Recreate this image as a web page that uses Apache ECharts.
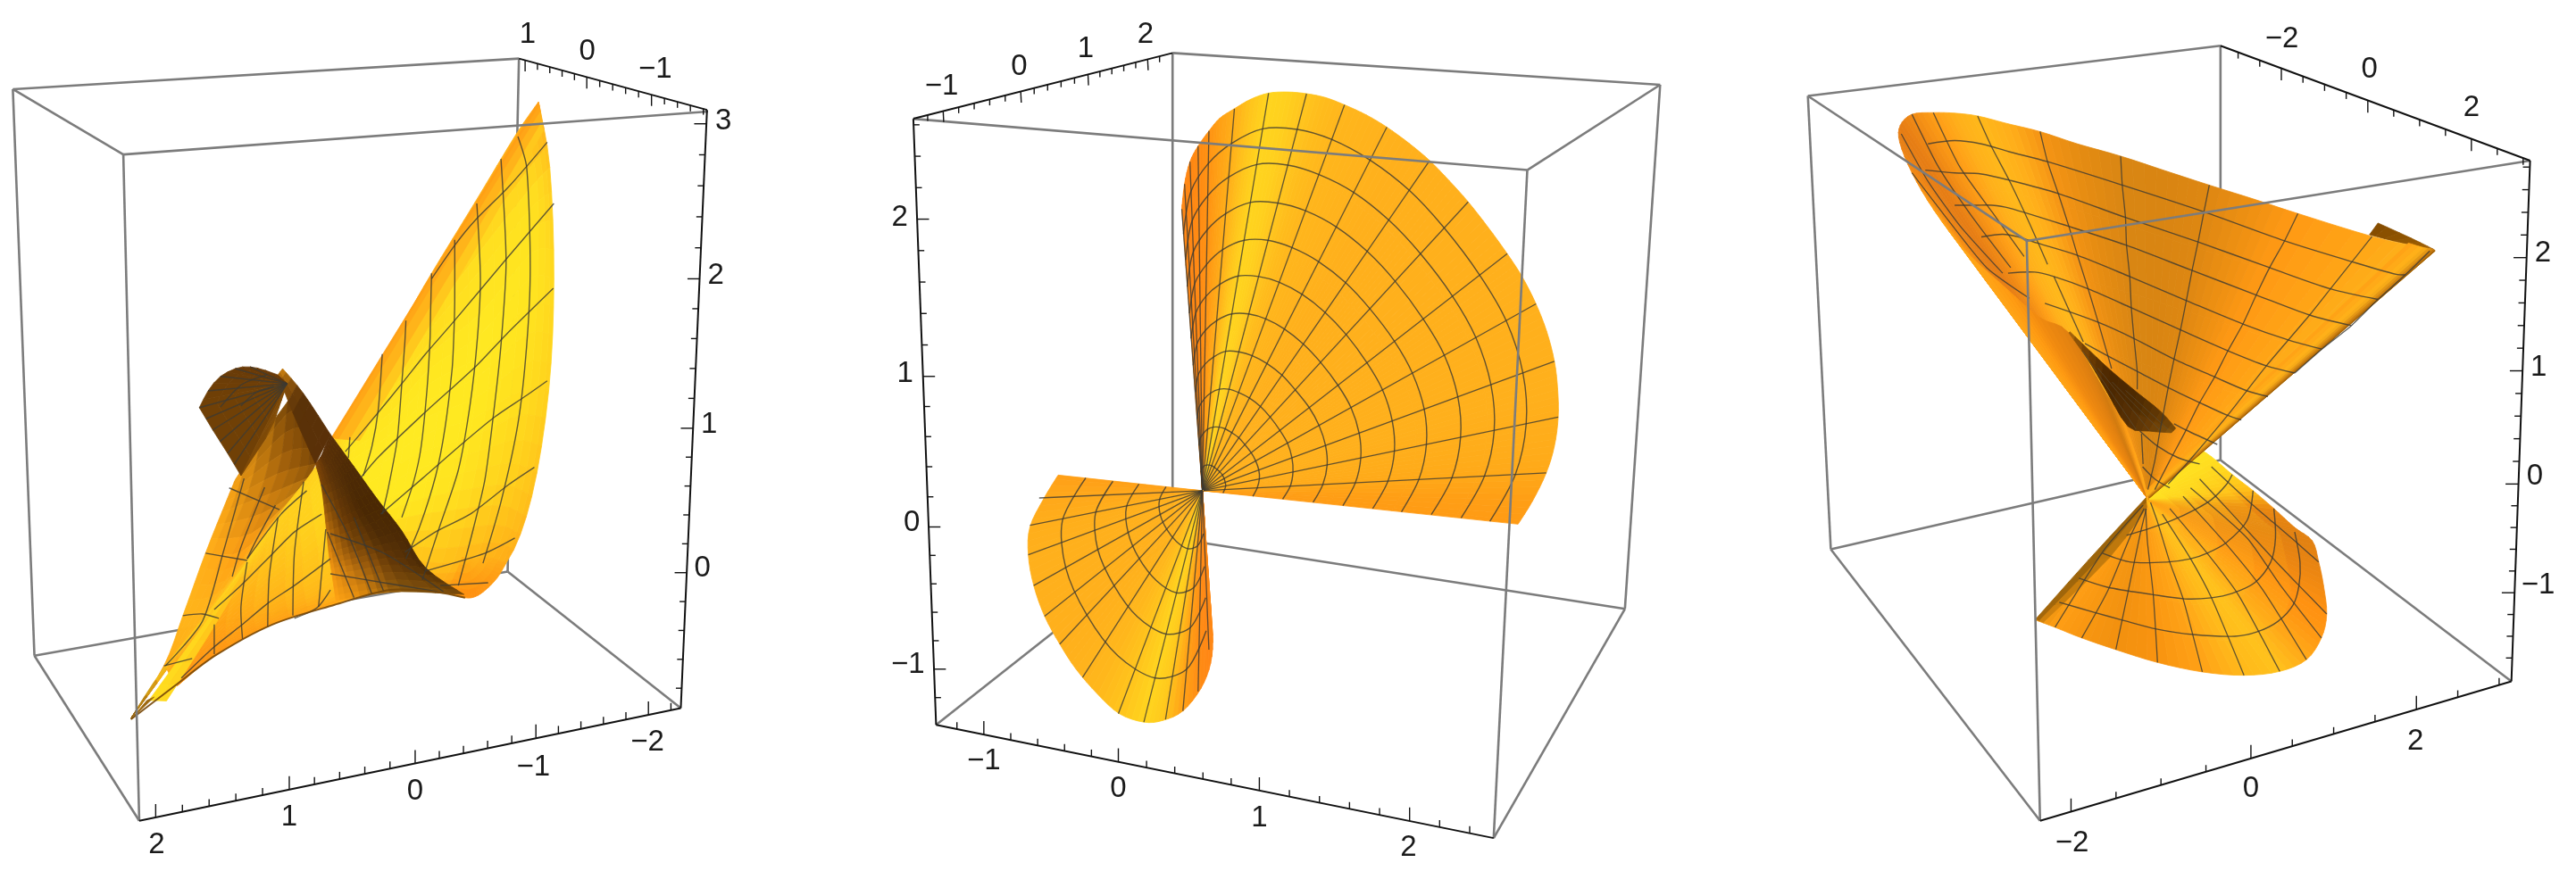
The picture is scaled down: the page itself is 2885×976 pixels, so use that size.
<!DOCTYPE html>
<html><head><meta charset="utf-8">
<style>html,body{margin:0;padding:0;background:#fff}#c{width:2885px;height:976px}</style>
<script src="https://cdn.jsdelivr.net/npm/echarts@6/dist/echarts.min.js"></script>
</head><body><div id="c"></div>
<script>
// ---------- Panel 1: frame and axes ----------
const p1BackEdges=[[[25,160],[1010,105]],[[25,160],[67,1176]],[[67,1176],[988,1025]],[[1010,105],[988,1025]],[[988,1025],[1325,1270]]];
const p1FrontEdges=[[[240,277],[25,160]],[[240,277],[1378,200]],[[240,277],[271,1472]],[[67,1176],[271,1472]]];
const p1AxisEdges=[[[1010,105],[1376,197]],[[1376,197],[1325,1270]],[[1325,1270],[271,1472]]];
const p1Axes=[
 {majors:[[303,1466],[563,1416],[808,1369],[1043,1323],[1262,1282]],sub:5,before:0,after:1,big:[0,-24],small:[0,-13]},
 {majors:[[1022,108],[1142,139],[1268,170]],sub:5,before:0,after:4,big:[0,20],small:[0,11]},
 {majors:[[1375,222],[1362,500],[1349,768],[1337,1027]],sub:5,before:0,after:4,big:[-24,0],small:[-12,0]}];
const p1Labels=[['2',305,1516],['1',563,1466],['0',808,1420],['−1',1038,1377],['−2',1260,1332],['1',1027,62],['0',1143,92],['−1',1275,125],['3',1408,218],['2',1393,495],['1',1380,762],['0',1367,1020]];
// ---------- Panel 1: surface ----------
const p1BackRows=[[[458,860],[440,900],[400,992],[356,1104],[319,1194],[255,1288]],[[560,720],[540,850],[470,990],[405,1090],[325,1200],[255,1288]],[[590,720],[614,832],[544,922],[452,1045],[322,1194],[255,1288]]];
const p1BackShade=[['FFA816','FFA816','FFB01A','FFB51A','FFA815','8A5A10'],['6A3C06','B06A0C','FF9E14','FFB41A','FFB41A','8A5A10'],['5A3206','7A4606','FFB01A','FFD01E','FFCC1C','8A5A10']];
const p1MainRows=[
 [[1048,183],[1070,300],[1078,500],[1068,700],[1035,890],[985,1010],[905,1072]],
 [[1005,240],[1030,340],[1030,500],[1015,700],[985,870],[945,1000],[880,1062]],
 [[925,362],[935,450],[935,600],[920,750],[895,880],[860,1010],[830,1058]],
 [[840,490],[845,560],[838,660],[825,780],[800,900],[775,1000],[760,1058]],
 [[790,570],[775,650],[760,740],[745,830],[720,930],[700,1000],[690,1072]],
 [[720,680],[700,730],[680,800],[660,880],[650,950],[650,1020],[655,1083]],
 [[620,830],[625,860],[630,900],[640,960],[645,1010],[650,1050],[655,1083]],
 [[544,922],[540,960],[530,1000],[525,1040],[522,1080],[525,1105],[530,1120]],
 [[452,1045],[440,1075],[425,1100],[415,1130],[415,1150],[415,1165],[420,1175]],
 [[322,1194],[325,1200],[330,1210],[335,1220],[340,1225],[345,1228],[345,1230]]];
const p1MainShade=[
 ['FF9A14','FFC81E','FFD81E','FFD01C','FFBE1A','FFAA18','FF8E10'],
 ['FFA815','FFDF20','FFE620','FFDE1E','FFD01C','FFB218','FF9612'],
 ['FFA515','FFDF20','FFE822','FFE820','FFE020','FFC01A','FF9C12'],
 ['FFA515','FFD81E','FFE620','FFEA22','FFE820','FFC41A','FF9E14'],
 ['FFA515','FFD81E','FFE620','FFEA22','FFE820','FFC41A','FF9E14'],
 ['FFC81C','FFE020','FFE620','FFE820','FFE020','FFC81A','FFA415'],
 ['FFCE1C','FFD81E','FFD81E','FFD01C','FFC81A','FFC01A','FFA415'],
 ['FFD21C','FFCA1C','FFC41A','FFBC1A','FFB218','FFA815','FF9E14'],
 ['FFD81C','FFB618','FFA815','FFA012','FF9C12','FF9812','FF9412'],
 ['FFCC1C','FFB018','FFA012','FF9812','FF9412','FF9412','FF9412']];
const p1EdgeRows=[[[1048,183],[880,433],[645,785]],[[1052,200],[890,440],[660,787]],[[1057,235],[915,462],[700,790]]];
const p1EdgeShade=[['FF9C14','FF9C14','FF9C14'],['FFA818','FFAA18','FFAA18'],['FFD21E','FFD21E','FFD21E']];
const p1CornerApex=[900,1000];
const p1CornerRim=[[985,1010],[968,1036],[945,1058],[925,1070],[905,1072],[870,1064]];
const p1CornerFar=['FFA818','FF9C14','FF9412','FF8E10','FF8E10','FF9412'];
const p1CornerNear=['FFB81A','FFB81A','FFB418','FFB418','FFB418','FFB418'];
const p1StripRows=[[[460,1040],[475,1034]],[[375,1148],[400,1148]],[[290,1256],[324,1257]]];
const p1StripShade=[['FFD01C','FFB41A'],['FFDC1E','FFC41A'],['FFDE1E','FFDC1E']];
const p1TipRows=[[[255,1290],[262,1284]],[[286,1256],[300,1250]]];
const p1TipShade=[['6E4208','6E4208'],['C98A10','C98A10']];
const p1WedgeRows=[
 [[614,832],[626,816],[634,797],[643,779]],
 [[626,874],[649,864],[672,851],[689,837]],
 [[634,938],[666,928],[701,912],[735,896]],
 [[640,992],[678,981],[736,965],[782,952]],
 [[646,1029],[689,1024],[759,1013],[828,1018]],
 [[654,1077],[701,1069],[782,1061],[903,1066]]];
const p1WedgeShade=[
 ['8A4A06','5A3008','5A3008','5A3008'],
 ['7A4408','5A3208','4D2A06','4D2A06'],
 ['B86E0C','6A3A06','4A2804','4A2804'],
 ['E88E10','8A500A','4E2C06','4A2804'],
 ['F89A12','C07410','6A3C08','4A2A06'],
 ['FFA515','E8900F','8A5A10','7A4A08']];
const p1RidgeRows=[[[541,672],[550,661]],[[570,740],[590,705]],[[614,832],[643,779]]];
const p1RidgeShade=[['B06A0C','D98A10'],['5A3208','5A3208'],['5A3008','5A3008']];
const p1CapApex=[559,688];
const p1CapRim=[[540,672],[516,664],[500,660],[487,658],[472,658],[458,661],[443,667],[429,675],[416,687],[405,701],[396,716],[388,731],[414,771],[443,813],[469,853],[515,789],[533,757]];
const p1CapShade=['633606','6B3C08','6A3A06','6A3A06','6A3A06','6A3A06','6A3C08','6A3C08','6E3E06','6E3E06','704006','704006','704006','704006','704006','8A5208','7A4608'];
const p1Mesh=[
 [[1008,245],[1025,300],[1032,480],[1025,620],[1008,760],[975,900],[940,1010]],
 [[975,285],[985,470],[976,608],[964,715],[944,859],[921,949],[892,1050]],
 [[928,365],[935,500],[929,608],[915,725],[892,843],[854,949],[822,1040]],
 [[885,430],[885,540],[883,608],[880,661],[866,768],[848,853],[817,944],[790,1002]],
 [[840,490],[838,560],[837,608],[831,699],[819,805],[805,864],[782,928]],
 [[790,575],[788,613],[782,688],[773,789],[756,874],[744,922]],
 [[744,635],[736,736],[724,800],[707,853]],
 [[681,784],[678,821]],
 [[1065,255],[990,335],[925,395],[885,440],[840,500]],
 [[1078,365],[985,465],[880,580],[828,635],[782,688],[735,741],[672,810]],
 [[1077,517],[985,600],[927,656],[822,744],[735,821],[701,858]],
 [[1065,683],[1025,709],[961,749],[898,797],[822,858],[741,922]],
 [[1040,838],[990,869],[915,922],[851,952],[788,990]],
 [[1002,965],[944,992],[828,1024]],
 [[950,1045],[857,1050]],
 [[591,864],[573,992],[570,1104]],
 [[541,928],[524,1034],[521,1125]],
 [[481,1008],[469,1088],[472,1146]],
 [[417,1120],[417,1173]],
 [[634,949],[620,1088]],
 [[643,1002],[573,1050],[521,1082],[469,1122],[417,1160],[353,1216]],
 [[626,922],[573,954],[521,1002],[469,1050],[417,1093]],
 [[597,880],[547,922],[481,1002]],
 [[643,1058],[617,1090],[573,1109]],
 [[446,875],[544,914]],
 [[400,992],[481,1005]],
 [[356,1104],[394,1101],[426,1109]],
 [[319,1194],[374,1181]],
 [[475,858],[434,992],[394,1114],[322,1194]],
 [[515,874],[469,981],[452,1034]],
 [[536,906],[498,970],[481,1002]],
 [[643,957],[747,992],[863,1061]],
 [[643,1029],[747,1045],[851,1061]],
 [[626,869],[678,960],[724,1066]],
 [[637,954],[672,1034],[689,1072]],
 [[689,928],[747,1061]],
 [[559,688],[487,658]],[[559,688],[458,661]],[[559,688],[429,675]],[[559,688],[405,701]],[[559,688],[388,731]],[[559,688],[401,751]],[[559,688],[414,771]],[[559,688],[428,792]],[[559,688],[443,813]],[[559,688],[456,833]],
 [[469,728],[498,704],[533,693]],[[429,730],[470,690],[520,672]]];
const p1Rim=[[255,1290],[340,1230],[420,1175],[530,1120],[650,1085],[760,1058],[850,1062],[905,1072]];
// ---------- Panel 2: frame and axes ----------
const p2BackEdges=[[[598,95],[1497,152]],[[598,95],[598,965]],[[598,965],[1432,1092]],[[598,965],[162,1300]],[[1497,152],[1432,1092]],[[1432,1092],[1190,1503]]];
const p2FrontEdges=[[[120,213],[1252,305]],[[1252,305],[1497,152]],[[1252,305],[1190,1503]]];
const p2AxisEdges=[[[120,213],[598,95]],[[120,213],[162,1300]],[[162,1300],[1190,1503]]];
const p2Axes=[
 {majors:[[175,199],[318,164],[442,133],[552,106]],sub:5,before:1,after:1,big:[1,20],small:[0,11]},
 {majors:[[127,393],[138,675],[148,945],[158,1200]],sub:5,before:3,after:1,big:[22,0],small:[11,0]},
 {majors:[[250,1317],[498,1366],[758,1418],[1035,1472]],sub:5,before:1,after:2,big:[0,-24],small:[0,-12]}];
const p2Labels=[['−1',172,155],['0',315,120],['1',438,88],['2',548,62],['2',95,390],['1',105,670],['0',117,937],['−1',110,1192],['−1',250,1365],['0',498,1415],['1',758,1467],['2',1033,1520]];
// ---------- Panel 2: surface ----------
const p2Apex=[653,880];
const p2UpperRim=[[1235,940],[1262,898],[1287,848],[1302,800],[1309,748],[1308,698],[1302,648],[1288,595],[1268,545],[1243,497],[1215,455],[1180,408],[1143,362],[1108,324],[1072,288],[1034,257],[993,228],[955,206],[915,188],[880,175],[845,168],[810,165],[775,167],[742,178],[712,195],[685,212],[665,235],[645,262],[630,290],[620,330],[615,375]];
const p2UpperShade=['FF9A14','FF9E15','FFA818','FFAC1A','FFAE1B','FFB01C','FFB01C','FFB01C','FFB01C','FFB01C','FFB01C','FFB01C','FFB01C','FFB01C','FFB01C','FFB01C','FFB21C','FFB41C','FFB61C','FFBC1C','FFC51E','FFD01E','FFD41E','FFC41C','FFAE18','FFA014','FF9212','FF8A12','FF8612','FF8613','FF8814'];
const p2UpperSpokes=[[1287,848],[1309,748],[1302,648],[1268,545],[1215,455],[1143,362],[1072,288],[993,228],[915,188],[845,168],[775,167],[712,195],[665,235],[645,262],[630,290],[620,330],[615,375]];
const p2UpperArcs=[
 [[1183,935],[1230,851],[1250,760],[1244,669],[1213,575],[1164,493],[1099,409],[1034,341],[962,287],[891,250],[828,232],[764,231],[707,257],[664,293],[632,343],[618,420]],
 [[1130,929],[1173,854],[1191,772],[1185,690],[1157,605],[1114,531],[1055,455],[997,395],[932,345],[868,313],[810,296],[753,295],[701,318],[663,351],[634,396],[622,466]],
 [[1075,923],[1113,857],[1129,784],[1124,712],[1099,637],[1060,572],[1008,504],[957,451],[900,407],[843,378],[792,364],[741,363],[696,383],[662,412],[636,452],[625,514]],
 [[1020,918],[1052,860],[1066,797],[1062,734],[1040,669],[1007,612],[962,554],[917,507],[867,469],[818,444],[774,431],[730,431],[690,448],[661,474],[639,508],[629,562]],
 [[967,912],[995,863],[1007,809],[1003,755],[985,699],[956,650],[918,600],[879,560],[837,528],[794,506],[757,496],[719,495],[685,510],[659,532],[641,561],[632,607]],
 [[912,907],[935,866],[945,821],[942,777],[927,731],[903,691],[871,650],[839,617],[804,590],[770,572],[738,563],[707,563],[679,575],[658,593],[643,617],[636,655]],
 [[857,901],[875,869],[883,834],[880,799],[868,763],[850,731],[824,699],[800,673],[772,652],[745,638],[720,631],[696,630],[674,640],[657,654],[645,673],[640,703]],
 [[801,895],[815,872],[820,846],[818,821],[810,795],[796,772],[778,748],[760,729],[740,714],[720,704],[702,698],[684,698],[668,705],[656,716],[647,730],[643,751]],
 [[746,890],[754,875],[758,859],[757,843],[751,826],[743,812],[731,797],[720,785],[707,776],[695,769],[684,766],[673,766],[662,770],[655,777],[649,786],[647,799]],
 [[691,884],[694,878],[696,871],[695,865],[693,858],[690,852],[685,846],[680,842],[675,838],[670,835],[665,834],[661,834],[657,835],[654,838],[652,842],[650,847]]];
const p2LowerRim=[[387,852],[360,895],[335,945],[332,995],[342,1050],[362,1105],[390,1155],[420,1200],[460,1245],[500,1280],[545,1295],[580,1292],[617,1275],[650,1235],[668,1190],[672,1140],[665,1090]];
const p2LowerShade=['FF9F16','FFA81A','FFAE1B','FFB01C','FFB01C','FFB01C','FFB01C','FFB21C','FFB81C','FFC41C','FFD41E','FFC81C','FFA016','FF8A14','FF8614','FF8814','FF8A14'];
const p2LowerSpokes=[[352,893],[335,942],[332,995],[342,1050],[362,1105],[390,1155],[432,1215],[498,1280],[545,1295],[585,1290],[617,1275],[645,1240],[665,1165]];
const p2LowerArcs=[
 [[438,857],[395,933],[401,1018],[440,1103],[497,1176],[566,1216],[624,1200],[660,1131]],
 [[488,863],[456,920],[460,985],[490,1050],[533,1106],[586,1137],[631,1125],[659,1072]],
 [[536,868],[513,909],[516,955],[536,1001],[568,1041],[605,1063],[637,1054],[657,1016]],
 [[586,873],[574,896],[575,922],[587,949],[605,971],[626,984],[644,979],[655,957]]];
// ---------- Panel 3: frame and axes ----------
const p3BackEdges=[[[898,82],[125,172]],[[125,172],[168,985]],[[168,985],[898,825]],[[898,82],[898,825]],[[898,825],[1443,1222]]];
const p3FrontEdges=[[[125,172],[535,432]],[[535,432],[1478,288]],[[535,432],[560,1472]],[[168,985],[560,1472]]];
const p3AxisEdges=[[[898,82],[1478,288]],[[1478,288],[1443,1222]],[[1443,1222],[560,1472]]];
const p3Axes=[
 {majors:[[1012,122],[1174,180],[1368,249]],sub:4,before:2,after:2,big:[0,22],small:[0,12]},
 {majors:[[1471,462],[1464,665],[1456,868],[1449,1063]],sub:5,before:4,after:3,big:[-24,0],small:[-12,0]},
 {majors:[[618,1456],[955,1360],[1265,1272]],sub:4,before:0,after:2,big:[0,-24],small:[0,-12]}];
const p3Labels=[['−2',1013,70],['0',1177,125],['2',1368,193],['2',1502,455],['1',1494,660],['0',1487,855],['−1',1493,1050],['−2',620,1513],['0',955,1415],['2',1263,1330]];
// ---------- Panel 3: surface ----------
const p3LowerApex=[758,895];
const p3LowerRim=[[552,1112],[588,1125],[638,1144],[702,1165],[780,1188],[864,1205],[942,1211],[1009,1204],[1059,1183],[1087,1144],[1097,1101],[1091,1050],[1082,1008],[1070,970],[1037,946],[998,912],[959,880],[920,851],[881,819],[850,800]];
const p3LowerFar=['E8900F','FF9E14','F89610','F2900F','F8920F','FFA016','FFB81A','FFC21C','FFA818','FF9412','FF8E10','EE8510','E47F10','DE7C10','E07C10','E8800F','FFB818','FFD01C','FFE020','FFE020'];
const p3LowerNear=['A8700E','FF9E14','F89A12','F29612','FFA015','FFAA18','FFBC1A','FFC21C','FFB81A','FFB81A','FFAC18','FFA818','FFA818','FFB018','FFB81A','FFC81C','FFE020','FFE020','FFE020','FFE020'];
const p3LowerSpokes=[
 [[588,1125],[680,986],[753,906]],
 [[638,1144],[686,1061],[730,960],[755,912]],
 [[702,1165],[725,1061],[747,960],[759,912]],
 [[780,1188],[772,1066],[761,970],[758,912]],
 [[864,1205],[828,1074],[803,1008],[780,936],[767,901]],
 [[942,1211],[881,1072],[842,1002],[789,922]],
 [[1009,1204],[931,1066],[873,992],[803,912]],
 [[1059,1183],[976,1056],[909,976],[828,890]],
 [[1087,1144],[1009,1048],[948,965],[842,875]],
 [[1097,1101],[1045,1050],[992,997],[920,922],[859,859]],
 [[1082,1008],[1037,970],[998,938],[953,901],[881,837]]];
const p3LowerArcs=[
 [[596,1080],[661,1098],[714,1112],[778,1128],[847,1138],[925,1141],[967,1133],[1006,1114],[1034,1085],[1045,1050],[1047,1008],[1037,954]],
 [[633,1037],[686,1053],[769,1066],[831,1074],[881,1072],[920,1064],[962,1045],[992,1008],[1001,965],[998,912]],
 [[677,992],[730,1008],[797,1008],[842,1002],[873,992],[909,973],[948,933],[959,880]],
 [[722,960],[764,948],[808,933],[850,914],[881,896],[909,869],[920,851]]];
const p3LowerBandRows=[[[552,1110],[650,1005],[758,893]],[[566,1116],[690,1000],[760,910]]];
const p3LowerBandShade=[['8E5A0A','8A5A0A','8E5A0A'],['E8900F','D2840E','C07A10']];
const p3FoldRows=[[[1193,400],[1177,421]],[[1255,427],[1221,432]],[[1297,447],[1271,443]]];
const p3FoldShade=[['8A4E00','7E4800'],['955800','8A5000'],['B06A08','9A5C04']];
const p3UpperApex=[762,895];
const p3UpperRim=[[1300,450],[1270,443],[1182,424],[1043,383],[960,357],[877,332],[800,308],[711,280],[630,258],[560,236],[500,222],[443,208],[400,203],[360,202],[320,205],[298,225],[297,255],[320,310],[360,375],[420,450],[500,520],[560,570],[614,597],[680,700],[719,763],[752,853]];
const p3UpperShade=['FFA818','FDB31A','FFA616','FF9914','EE9012','DE8712','D98512','D98613','E58C12','F59414','FFAE1A','FFB81A','FFB01A','FF9E16','F08A14','E67C14','E88015','F58A12','FFA015','FFA618','FF9A12','F08A10','E08010','D07A10','FF9E18','FFAC1A'];
const p3EdgeRows=[[[1300,450],[765,893]],[[1296,447],[763,891]],[[1278,444],[760,888]],[[1250,436],[758,880]]];
const p3EdgeShade=[['8A5200','8A5200'],['C87A10','C87A10'],['FFB31A','FFB31A'],['FFA015','FFA015']];
const p3DarkRows=[[[614,597],[616,595]],[[653,650],[653,629]],[[686,704],[692,664]],[[725,765],[742,704]],[[764,773],[786,738]],[[806,776],[814,768]]];
const p3DarkShade=[['A8660C','A8660C'],['6B3B04','6B3B04'],['4A2600','4A2600'],['5A3206','4A2800'],['6E4008','5E3603'],['8A5A10','7A4A08']];
const p3UpperSpokes=[
 [[1290,450],[1244,493],[1193,537],[1143,584],[1088,626],[1037,669]],
 [[1182,424],[1104,518],[1065,565],[984,656],[912,744],[837,829],[800,868]],
 [[1043,383],[1018,432],[990,480],[965,529],[940,581],[912,629],[887,676],[859,722],[831,776],[803,826],[775,878]],
 [[877,332],[867,380],[856,434],[845,484],[834,539],[823,592],[811,644],[800,695],[792,736],[784,776],[775,826],[762,878]],
 [[711,280],[714,332],[720,390],[722,440],[728,496],[731,552],[736,607],[742,666],[742,698]],
 [[750,778],[753,832]],
 [[560,236],[574,290],[594,347],[614,406],[630,458],[650,518],[669,578],[694,661]],
 [[443,208],[470,265],[502,323],[540,400],[574,474]],
 [[586,496],[641,613]],
 [[360,202],[410,300],[470,380],[530,460]],
 [[320,205],[370,300],[430,385],[505,480]],
 [[300,240],[350,325],[410,405],[490,490]],
 [[320,310],[380,385],[460,480],[540,535]]];
const p3UpperArcs=[
 [[350,258],[400,252],[450,258],[502,272],[574,290],[714,332],[867,380],[1018,432],[1143,469],[1227,492],[1244,493]],
 [[345,305],[400,310],[450,312],[502,323],[594,347],[720,390],[856,434],[990,480],[1104,518],[1193,537]],
 [[400,368],[440,368],[470,368],[502,373],[614,406],[722,440],[842,484],[965,529],[1065,565],[1143,584]],
 [[450,425],[490,420],[520,425],[555,436],[630,458],[728,496],[834,539],[940,581],[1026,610],[1088,626]],
 [[500,490],[550,488],[586,496],[650,518],[731,552],[824,592],[912,629],[984,656],[1037,669]],
 [[569,544],[669,578],[736,607],[811,644],[887,676],[948,701],[987,711]],
 [[644,616],[694,642],[742,666],[800,695],[859,722],[909,744],[937,753]],
 [[811,760],[833,771],[892,797]],
 [[747,773],[780,800],[819,821],[859,832]],
 [[752,837],[775,859],[803,875]]];
const p3DarkLines=[[[640,630],[740,770]],[[668,660],[765,772]],[[695,685],[785,772]],[[720,700],[800,770]]];

// ---------- rendering helpers ----------
const rgb=h=>[parseInt(h.slice(0,2),16),parseInt(h.slice(2,4),16),parseInt(h.slice(4,6),16)];
const css=c=>'rgb('+c.map(v=>Math.round(v)).join(',')+')';
function linear(list,n){const o=[];for(let i=0;i<list.length-1;i++)for(let k=0;k<n;k++)o.push(list[i].map((v,d)=>v+(list[i+1][d]-v)*k/n));o.push(list[list.length-1]);return o;}
function resample(pts,n){
 if(pts.length<3||n<2)return linear(pts,n);
 const o=[];
 for(let i=0;i<pts.length-1;i++){
  const a=pts[Math.max(i-1,0)],b=pts[i],c=pts[i+1],d=pts[Math.min(i+2,pts.length-1)];
  for(let k=0;k<n;k++){const t=k/n,t2=t*t,t3=t2*t;
   o.push(b.map((_,j)=>.5*(2*b[j]+(c[j]-a[j])*t+(2*a[j]-5*b[j]+4*c[j]-d[j])*t2+(3*b[j]-a[j]-3*c[j]+d[j])*t3)));}
 }
 o.push(pts[pts.length-1]);return o;
}
function cellsOf(rows,shades,along,across){
 const r=rows.map(p=>p.length>2?resample(p,along):linear(p,along));
 const c=shades.map(s=>linear(s.map(rgb),along));
 const m=r[0].length,gridP=[],gridC=[];
 for(let j=0;j<m;j++){gridP.push(resample(r.map(x=>x[j]),across));gridC.push(linear(c.map(x=>x[j]),across));}
 const cells=[];
 for(let j=0;j<m-1;j++)for(let i=0;i<gridP[0].length-1;i++){
  const q=[gridC[j][i],gridC[j+1][i],gridC[j+1][i+1],gridC[j][i+1]];
  cells.push({pts:[gridP[j][i],gridP[j+1][i],gridP[j+1][i+1],gridP[j][i+1]],fill:css([0,1,2].map(d=>(q[0][d]+q[1][d]+q[2][d]+q[3][d])/4))});
 }
 return cells;
}
function fan(apex,rim,far,near,across){
 return cellsOf(rim.map(p=>[apex,p]),far.map((f,i)=>[near?near[i]:f,f]),5,across||4);
}
function spokesFrom(apex,ends){return ends.map(e=>[apex,e]);}
let zOrder=1;
function base(p,n,render){return{type:'custom',xAxisIndex:p,yAxisIndex:p,coordinateSystem:'cartesian2d',silent:true,clip:false,animation:false,progressive:0,z:zOrder++,data:Array.from({length:n},(_,i)=>[i,0]),encode:{x:0,y:1},renderItem:render};}
function patchSeries(p,cells){return base(p,cells.length,(_,api)=>{const c=cells[api.value(0)];return{type:'polygon',shape:{points:c.pts.map(q=>api.coord(q))},style:{fill:c.fill,stroke:c.fill,lineWidth:.8}};});}
function lineSeries(p,lines,color,width,smooth){return base(p,lines.length,(_,api)=>({type:'polyline',shape:{points:lines[api.value(0)].map(q=>api.coord(q)),smooth:smooth||0},style:{fill:null,stroke:color,lineWidth:width,lineJoin:'round'}}));}
function tickLines(ax){
 const out=[],add=(pt,big)=>{const v=big?ax.big:ax.small;out.push([pt,[pt[0]+v[0],pt[1]+v[1]]]);};
 const M=ax.majors;
 const first=[(M[1][0]-M[0][0])/ax.sub,(M[1][1]-M[0][1])/ax.sub];
 for(let k=ax.before;k>0;k--)add([M[0][0]-first[0]*k,M[0][1]-first[1]*k],false);
 for(let i=0;i<M.length-1;i++)for(let k=0;k<ax.sub;k++)add([M[i][0]+(M[i+1][0]-M[i][0])*k/ax.sub,M[i][1]+(M[i+1][1]-M[i][1])*k/ax.sub],k===0);
 const e=M.length-1,last=[(M[e][0]-M[e-1][0])/ax.sub,(M[e][1]-M[e-1][1])/ax.sub];
 add(M[e],true);
 for(let k=1;k<=ax.after;k++)add([M[e][0]+last[0]*k,M[e][1]+last[1]*k],false);
 return out;
}
function labelSeries(p,labels){return base(p,labels.length,(_,api)=>{const l=labels[api.value(0)],q=api.coord([l[1],l[2]]);return{type:'text',x:q[0],y:q[1],style:{text:l[0],fontFamily:'"Liberation Sans",Arial,sans-serif',fontSize:33,fill:'#1a1a1a',align:'center',verticalAlign:'middle'}};});}
const GRAY='#7c7c7c',BLACK='#111111',MESH='rgba(60,58,50,0.8)';
function frame(p,axes,labels,axisEdges){
 const t=[];axes.forEach(a=>t.push(...tickLines(a)));
 return[lineSeries(p,axisEdges,BLACK,2),lineSeries(p,t,BLACK,1.4),labelSeries(p,labels)];
}
const series=[
 // panel 1
 lineSeries(0,p1BackEdges,GRAY,2.6),
 patchSeries(0,cellsOf(p1BackRows,p1BackShade,4,4)),
 patchSeries(0,cellsOf(p1MainRows,p1MainShade,4,4)),
 patchSeries(0,cellsOf(p1EdgeRows,p1EdgeShade,2,2)),
 patchSeries(0,fan(p1CornerApex,p1CornerRim,p1CornerFar,p1CornerNear)),
 patchSeries(0,cellsOf(p1StripRows,p1StripShade,2,3)),
 patchSeries(0,cellsOf(p1TipRows,p1TipShade,1,1)),
 patchSeries(0,cellsOf(p1RidgeRows,p1RidgeShade,2,4)),
 patchSeries(0,fan(p1CapApex,p1CapRim,p1CapShade,null,1)),
 patchSeries(0,cellsOf(p1WedgeRows,p1WedgeShade,4,4)),
 lineSeries(0,p1Mesh,MESH,1.4,.25),
 lineSeries(0,[p1Rim],'rgba(120,72,8,0.9)',2,.3),
 lineSeries(0,p1FrontEdges,GRAY,2.6),
 ...frame(0,p1Axes,p1Labels,p1AxisEdges),
 // panel 2
 lineSeries(1,p2BackEdges,GRAY,2.6),
 patchSeries(1,fan(p2Apex,p2UpperRim,p2UpperShade)),
 lineSeries(1,spokesFrom(p2Apex,p2UpperSpokes),MESH,1.3),
 lineSeries(1,p2UpperArcs,MESH,1.4,.3),
 patchSeries(1,fan(p2Apex,p2LowerRim,p2LowerShade)),
 lineSeries(1,spokesFrom(p2Apex,p2LowerSpokes),MESH,1.3),
 lineSeries(1,p2LowerArcs,MESH,1.4,.3),
 lineSeries(1,p2FrontEdges,GRAY,2.6),
 ...frame(1,p2Axes,p2Labels,p2AxisEdges),
 // panel 3
 lineSeries(2,p3BackEdges,GRAY,2.6),
 patchSeries(2,fan(p3LowerApex,p3LowerRim,p3LowerFar,p3LowerNear)),
 patchSeries(2,cellsOf(p3LowerBandRows,p3LowerBandShade,3,2)),
 lineSeries(2,p3LowerSpokes,MESH,1.3,.2),
 lineSeries(2,p3LowerArcs,MESH,1.4,.3),
 patchSeries(2,cellsOf(p3FoldRows,p3FoldShade,1,3)),
 patchSeries(2,fan(p3UpperApex,p3UpperRim,p3UpperShade)),
 patchSeries(2,cellsOf(p3EdgeRows,p3EdgeShade,1,3)),
 patchSeries(2,cellsOf(p3DarkRows,p3DarkShade,2,3)),
 lineSeries(2,p3DarkLines,'rgba(90,80,60,0.6)',1),
 lineSeries(2,p3UpperSpokes,MESH,1.3,.2),
 lineSeries(2,p3UpperArcs,MESH,1.4,.3),
 lineSeries(2,p3FrontEdges,GRAY,2.6),
 ...frame(2,p3Axes,p3Labels,p3AxisEdges)
];
const mkX=i=>({gridIndex:i,type:'value',min:0,max:1564,show:false});
const mkY=i=>({gridIndex:i,type:'value',min:0,max:1562,inverse:true,show:false});
const chart=echarts.init(document.getElementById('c'),null,{renderer:'canvas'});
chart.setOption({animation:false,backgroundColor:'#ffffff',
 grid:[{left:0,top:0,width:900,height:976},{left:950,top:0,width:950,height:976},{left:1950,top:0,width:935,height:976}],
 xAxis:[mkX(0),mkX(1),mkX(2)],yAxis:[mkY(0),mkY(1),mkY(2)],series});
</script></body></html>
